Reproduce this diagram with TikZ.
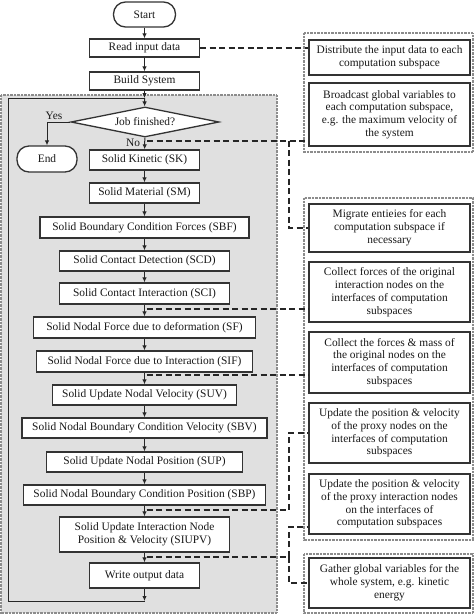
\documentclass[tikz,border=0pt]{standalone}
\usepackage{fontspec}
\setmainfont{Liberation Serif}
\usetikzlibrary{arrows.meta,shapes.geometric,calc}
\begin{document}
\begin{tikzpicture}[x=1pt,y=-1pt,
  every node/.style={font=\fontsize{11.4}{12.8}\selectfont, text=black!90},
  proc/.style={draw=black!80, line width=1.3pt, fill=white, inner sep=0pt, align=center, minimum height=20pt},
  term/.style={proc, rounded corners=12pt},
  note/.style={proc, minimum width=161pt},
  grp/.style={draw=black!45, line width=2pt, dash pattern=on 0.7pt off 0.7pt},
  arr/.style={draw=black!85, line width=1pt, -{Latex[length=5pt,width=4.5pt]}},
  ln/.style={draw=black!85, line width=1pt},
  dsh/.style={draw=black!85, line width=2pt, dash pattern=on 6pt off 3.5pt},
  lbl/.style={inner sep=0pt}
]
\useasboundingbox (0,0) rectangle (474,614);
% groups
\draw[grp, fill=black!12] (0.5,95) rectangle (277,613);
\draw[grp, fill=white] (304,33) rectangle (473,152);
\draw[grp, fill=white] (304,198) rectangle (473,540);
\draw[grp, fill=white] (304,554) rectangle (473,613);

% main flow
\node[term, minimum width=62pt, minimum height=25pt] (start) at (144.5,14.5) {Start};
\node[proc, minimum width=110pt, minimum height=18pt] (read) at (144.5,48) {Read input data};
\node[proc, minimum width=110pt, minimum height=18pt] (build) at (144.5,81) {Build System};
\node[diamond, draw=black!80, line width=1.3pt, fill=white, inner sep=0pt, aspect=4.9, minimum width=148pt, minimum height=30pt] (job) at (145,122) {Job finished?};
\node[term, minimum width=60pt, minimum height=26pt] (end) at (47,159) {End};
\node[proc, minimum width=110pt] (sk) at (144.5,160) {Solid Kinetic (SK)};
\node[proc, minimum width=110pt] (sm) at (144.5,193) {Solid Material (SM)};
\node[proc, minimum width=209pt, minimum height=21pt] (sbf) at (144.5,227.5) {Solid Boundary Condition Forces (SBF)};
\node[proc, minimum width=170pt] (scd) at (144.5,261) {Solid Contact Detection (SCD)};
\node[proc, minimum width=170pt, minimum height=21pt] (sci) at (144.5,293.5) {Solid Contact Interaction (SCI)};
\node[proc, minimum width=222pt, minimum height=21pt] (sf) at (144.5,327.5) {Solid Nodal Force due to deformation (SF)};
\node[proc, minimum width=216pt, minimum height=21pt] (sif) at (144.5,361.5) {Solid Nodal Force due to Interaction (SIF)};
\node[proc, minimum width=184pt] (suv) at (144.5,395) {Solid Update Nodal Velocity (SUV)};
\node[proc, minimum width=245pt] (sbv) at (144.5,428) {Solid Nodal Boundary Condition Velocity (SBV)};
\node[proc, minimum width=196pt] (sup) at (144.5,462) {Solid Update Nodal Position (SUP)};
\node[proc, minimum width=242pt] (sbp) at (144.5,495) {Solid Nodal Boundary Condition Position (SBP)};
\node[proc, minimum width=170pt, minimum height=35pt] (siupv) at (144.5,534.5) {Solid Update Interaction Node\\Position \& Velocity (SIUPV)};
\node[proc, minimum width=110pt, minimum height=25pt] (write) at (144.5,575.5) {Write output data};

% notes
\node[note, minimum height=35pt] (na) at (389.5,57.5) {Distribute the input data to each\\computation subspace};
\node[note, minimum height=63pt] (nb) at (389.5,114.5) {Broadcast global variables to\\each computation subspace,\\e.g. the maximum velocity of\\the system};
\node[note, minimum height=48pt] (nm) at (389.5,228) {Migrate entieies for each\\computation subspace if\\necessary};
\node[note, minimum height=60pt] (ncf) at (389.5,292) {Collect forces of the original\\interaction nodes on the\\interfaces of computation\\subspaces};
\node[note, minimum height=61pt] (ncm) at (389.5,362.5) {Collect the forces \& mass of\\the original nodes on the\\interfaces of computation\\subspaces};
\node[note, minimum height=60pt] (nup) at (389.5,433) {Update the position \& velocity\\of the proxy nodes on the\\interfaces of computation\\subspaces};
\node[note, minimum height=60pt] (nui) at (389.5,504) {Update the position \& velocity\\of the proxy interaction nodes\\on the interfaces of\\computation subspaces};
\node[note, minimum height=50pt] (ng) at (389.5,583) {Gather global variables for the\\whole system, e.g. kinetic\\energy};

% arrows
\coordinate (jt) at (144.5,98);
\coordinate (lb) at (144.5,601);
\coordinate (lbl) at (8,601);
\coordinate (ltl) at (8,98);
\draw[arr] (start) -- (read);
\draw[arr] (read) -- (build);
\draw[arr] (build) -- (jt);
\draw[arr] (jt) -- (job);
\draw[arr] (job) -- (sk);
\draw[arr] (sk) -- (sm);
\draw[arr] (sm) -- (sbf);
\draw[arr] (sbf) -- (scd);
\draw[arr] (scd) -- (sci);
\draw[arr] (sci) -- (sf);
\draw[arr] (sf) -- (sif);
\draw[arr] (sif) -- (suv);
\draw[arr] (suv) -- (sbv);
\draw[arr] (sbv) -- (sup);
\draw[arr] (sup) -- (sbp);
\draw[arr] (sbp) -- (siupv);
\draw[arr] (siupv) -- (write);
\draw[arr] (write) -- (lb);
\draw[ln] (lb) -- (lbl) -- (ltl) -- (jt);
\draw[arr] (job.west) -| (end.north);
\node[lbl] (yes) at (54,115.5) {Yes};
\node[lbl] (no) at (133,143) {No};

% dashed links
\coordinate (vx) at (289,0);
\coordinate (d1) at ($(job.south)+(2,3)$);
\coordinate (d3) at ($(sci.south)+(2,4)$);
\coordinate (d4) at ($(sif.south)+(2,2.5)$);
\coordinate (d5) at ($(sbp.south)+(2,4)$);
\coordinate (d6) at ($(siupv.south)+(2,4)$);
\draw[dsh] (read.east) -- (read.east -| na.west);
\draw[dsh] (d1) -- (d1 -| nb.west);
\draw[dsh] (d1 -| vx) |- (nm.west);
\draw[dsh] (d3) -- (d3 -| ncf.west);
\draw[dsh] (d4) -- (d4 -| ncm.west);
\draw[dsh] (d5) -- (d5 -| vx) |- (nup.west);
\draw[dsh] (d6) -- (d6 -| vx) |- ($(nui.south west)+(0,-8)$);
\draw[dsh] (d6 -| vx) |- (ng.west);
\end{tikzpicture}
\end{document}
